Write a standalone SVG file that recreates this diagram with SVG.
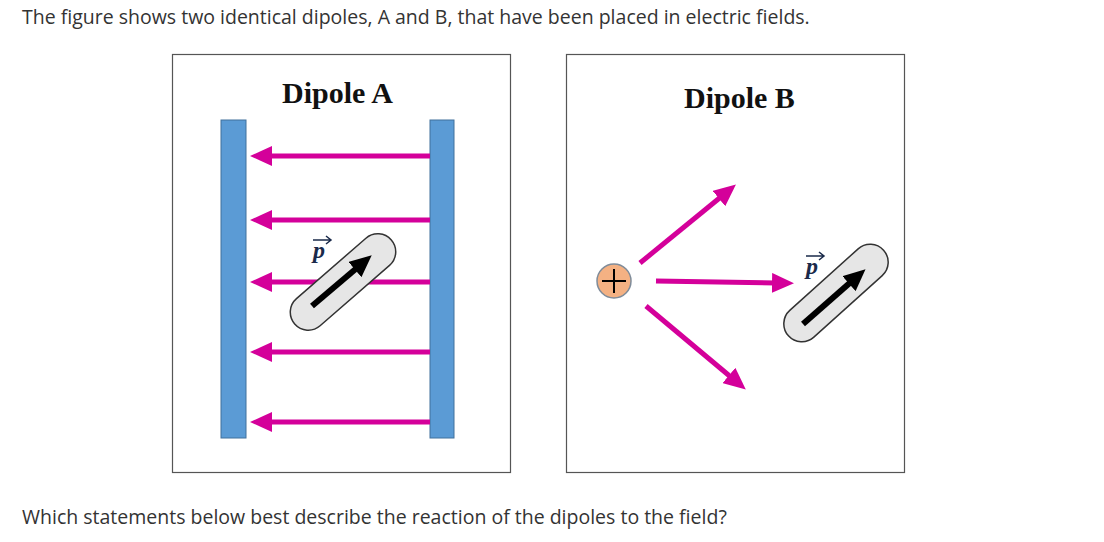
<svg xmlns="http://www.w3.org/2000/svg" width="1104" height="542" viewBox="0 0 1104 542">
<style>
.t{font-family:"Open Sans","Noto Sans",sans-serif;font-size:19.5px;fill:#333}
.h{font-family:"Liberation Serif",serif;font-weight:bold;font-size:30px;fill:#111}
.p{font-family:"Liberation Serif",serif;font-style:italic;font-weight:bold;font-size:24px;fill:#1a2a4a}
.box{fill:#fff;stroke:#555;stroke-width:1.2}
.plate{fill:#5b9bd5;stroke:#41719c;stroke-width:1}
.f{stroke:#d4009a;stroke-width:5;fill:none}
.cap{fill:#e6e6e6;stroke:#333;stroke-width:1.5}
.d{stroke:#000;stroke-width:6;marker-end:url(#bh)}
</style>
<defs>
<marker id="mh" markerUnits="userSpaceOnUse" markerWidth="24" markerHeight="20" refX="4" refY="10" orient="auto"><path d="M0,0 L22,10 L0,20 Z" fill="#d4009a"/></marker>
<marker id="bh" markerUnits="userSpaceOnUse" markerWidth="24" markerHeight="20" refX="4" refY="10" orient="auto"><path d="M0,0 L22,10 L0,20 Z" fill="#000"/></marker>
</defs>
<text class="t" x="22" y="24">The figure shows two identical dipoles, A and B, that have been placed in electric fields.</text>
<g id="dipoleA">
<rect class="box" x="172.5" y="54.5" width="338" height="418"/>
<text class="h" x="282" y="103">Dipole A</text>
<rect class="plate" x="221" y="120" width="25" height="318"/>
<rect class="plate" x="430" y="120" width="24" height="318"/>
<g id="fieldA">
<line class="f" x1="430" y1="156" x2="268" y2="156" marker-end="url(#mh)"/>
<line class="f" x1="430" y1="220" x2="268" y2="220" marker-end="url(#mh)"/>
<line class="f" x1="430" y1="282" x2="268" y2="282" marker-end="url(#mh)"/>
<line class="f" x1="430" y1="352" x2="268" y2="352" marker-end="url(#mh)"/>
<line class="f" x1="430" y1="422" x2="268" y2="422" marker-end="url(#mh)"/>
</g>
<rect class="cap" x="279" y="264" width="128" height="36" rx="18" transform="rotate(-41 343 282)"/>
<line class="d" x1="312" y1="306" x2="358" y2="267"/>
<text class="p" x="313" y="258">p</text>
<path d="M313 240 L330 240 M326 236 L331 240 L326 244" stroke="#1a2a4a" stroke-width="1.5" fill="none"/>
</g>
<g id="dipoleB">
<rect class="box" x="566.5" y="54.5" width="338" height="418"/>
<text class="h" x="684" y="108">Dipole B</text>
<circle cx="614" cy="281" r="17" fill="#f4b183" stroke="#7f8c9a" stroke-width="1.5"/>
<path d="M602 281 H626 M614 269 V293" stroke="#000" stroke-width="2"/>
<g id="fieldB">
<line class="f" x1="640" y1="263" x2="722" y2="196" marker-end="url(#mh)"/>
<line class="f" x1="656" y1="281" x2="776" y2="283" marker-end="url(#mh)"/>
<line class="f" x1="646" y1="306" x2="732" y2="378" marker-end="url(#mh)"/>
</g>
<rect class="cap" x="772" y="275" width="128" height="36" rx="18" transform="rotate(-42 836 293)"/>
<line class="d" x1="803" y1="324" x2="852" y2="281"/>
<text class="p" x="806" y="274">p</text>
<path d="M806 256 L823 256 M819 252 L824 256 L819 260" stroke="#1a2a4a" stroke-width="1.5" fill="none"/>
</g>
<text class="t" x="22" y="524">Which statements below best describe the reaction of the dipoles to the field?</text>
</svg>
